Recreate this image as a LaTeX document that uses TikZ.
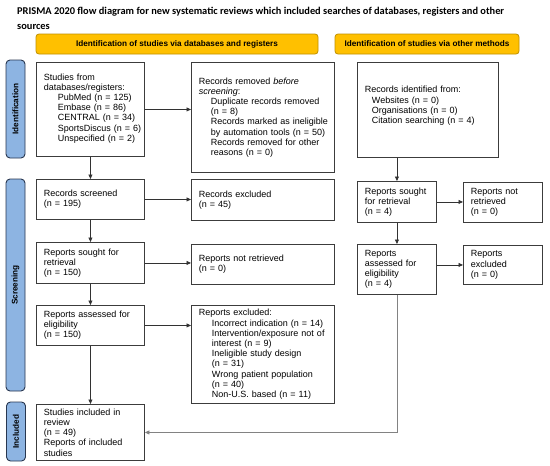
\documentclass[tikz,border=0pt]{standalone}
\usepackage{fontspec}
\setmainfont{Liberation Sans}
\newfontfamily\titlefont{Carlito}
\usetikzlibrary{arrows.meta}
\definecolor{boxline}{RGB}{60,60,60}
\definecolor{connline}{RGB}{50,50,50}
\definecolor{lightconn}{RGB}{130,130,130}
\definecolor{hdrfill}{RGB}{255,192,0}
\definecolor{hdrline}{RGB}{191,144,0}
\definecolor{barfill}{RGB}{141,180,226}
\definecolor{barline}{RGB}{40,55,80}
\newcommand{\itm}[2][12pt]{\hspace*{#1}\mbox{#2}}
\begin{document}
\begin{tikzpicture}[x=1pt,y=-1pt,
  box/.style={draw=boxline, line width=0.9pt, fill=white, inner xsep=7.5pt, inner ysep=0pt,
    align=left, anchor=north west, font=\fontsize{9}{10.2}\selectfont},
  header/.style={draw=hdrline, line width=0.8pt, fill=hdrfill, rounded corners=3pt,
    font=\fontsize{8.2}{10}\selectfont\bfseries, inner sep=0pt, minimum height=20pt},
  bar/.style={draw=barline, line width=0.9pt, fill=barfill, rounded corners=4pt, rotate=90,
    font=\fontsize{8.2}{10}\selectfont\bfseries, inner sep=0pt, minimum height=19pt},
  conn/.style={draw=connline, line width=0.8pt, -{Triangle[length=4.5pt,width=4pt]}},
]
\fill[white] (0,0) rectangle (550,466);
\useasboundingbox (0,0) rectangle (550,466);

% title
\node[anchor=north west, inner sep=0pt, align=left, font=\titlefont\bfseries\fontsize{10.4}{15.5}\selectfont] (title) at (17,6.5)
  {PRISMA 2020 flow diagram for new systematic reviews which included searches of databases, registers and other\\ sources};

% headers
\node[header, minimum width=282pt] (hdr1) at (177,44) {Identification of studies via databases and registers};
\node[header, minimum width=184pt] (hdr2) at (427,44) {Identification of studies via other methods};

% side bars
\node[bar, minimum width=98pt] (barI) at (15.5,109) {Identification};
\node[bar, minimum width=212pt] (barS) at (15.5,285) {Screening};
\node[bar, minimum width=59pt] (barInc) at (16,431.5) {Included};

% left column
\node[box, minimum width=108pt, text width=93pt, minimum height=94pt] (A) at (36,62)
  {Studies from\\ databases/registers:\\ \itm[14pt]{PubMed (n = 125)}\\ \itm[14pt]{Embase (n = 86)}\\
   \itm[14pt]{CENTRAL (n = 34)}\\ \itm[14pt]{SportsDiscus (n = 6)}\\ \itm[14pt]{Unspecified (n = 2)}\\[-6pt]\mbox{}};
\node[box, minimum width=108pt, text width=93pt, minimum height=40pt] (screened) at (36,179)
  {Records screened\\ (n = 195)};
\node[box, minimum width=108pt, text width=93pt, minimum height=41pt] (sought) at (36,242)
  {Reports sought for\\ retrieval\\ (n = 150)};
\node[box, minimum width=108pt, text width=93pt, minimum height=40pt] (assessed) at (36,305)
  {Reports assessed for\\ eligibility\\ (n = 150)};
\node[box, minimum width=108pt, text width=93pt, minimum height=56pt] (included) at (36,404)
  {Studies included in\\ review\\ (n = 49)\\ Reports of included\\ studies};

% middle column
\node[box, minimum width=143pt, text width=128pt, minimum height=110pt] (B) at (191,62)
  {Records removed \textit{before}\\ \textit{screening}:\\ \itm{Duplicate records removed}\\ \itm{(n = 8)}\\
   \itm{Records marked as ineligible}\\ \itm{by automation tools (n = 50)}\\ \itm{Records removed for other}\\ \itm{reasons (n = 0)}};
\node[box, minimum width=143pt, text width=128pt, minimum height=41pt] (excl) at (191,179)
  {Records excluded\\ (n = 45)};
\node[box, minimum width=143pt, text width=128pt, minimum height=40pt] (notret) at (191,244)
  {Reports not retrieved\\ (n = 0)};
\node[box, minimum width=143pt, text width=128pt, minimum height=98pt] (repexcl) at (191,305)
  {Reports excluded:\\ \itm[13pt]{Incorrect indication (n = 14)}\\ \itm[13pt]{Intervention/exposure not of}\\
   \itm[13pt]{interest (n = 9)}\\ \itm[13pt]{Ineligible study design}\\ \itm[13pt]{(n = 31)}\\
   \itm[13pt]{Wrong patient population}\\ \itm[13pt]{(n = 40)}\\ \itm[13pt]{Non-U.S. based (n = 11)}};

% right column
\node[box, minimum width=141pt, text width=126pt, minimum height=95pt] (C) at (357,62)
  {Records identified from:\\ \itm[7pt]{Websites (n = 0)}\\ \itm[7pt]{Organisations (n = 0)}\\
   \itm[7pt]{Citation searching (n = 4)}\\ \mbox{}};
\node[box, minimum width=79pt, text width=64pt, minimum height=41pt] (sought2) at (357,181)
  {Reports sought\\ for retrieval\\ (n = 4)};
\node[box, minimum width=79pt, text width=64pt, minimum height=40pt] (notret2) at (463,182)
  {Reports not\\ retrieved\\ (n = 0)};
\node[box, minimum width=79pt, text width=64pt, minimum height=50pt] (assessed2) at (357,244)
  {Reports\\ assessed for\\ eligibility\\ (n = 4)};
\node[box, minimum width=79pt, text width=64pt, minimum height=39pt] (excl2) at (463,245)
  {Reports\\ excluded\\ (n = 0)};

% connectors
\draw[conn] (A) -- (screened);
\draw[conn] (screened) -- (sought);
\draw[conn] (sought) -- (assessed);
\draw[conn] (assessed) -- (included);
\draw[conn] (A.east) -- (A.east -| B.west);
\draw[conn] (screened.east) -- (screened.east -| excl.west);
\draw[conn] (sought.east) -- (sought.east -| notret.west);
\draw[conn] (assessed.east) -- (assessed.east -| repexcl.west);
\draw[conn] (C.south -| sought2.north) -- (sought2.north);
\draw[conn] (sought2.east) -- (sought2.east -| notret2.west);
\draw[conn] (sought2) -- (assessed2);
\draw[conn] (excl2.west -| assessed2.east) -- (excl2.west);
\draw[conn, draw=lightconn] (assessed2.south) |- (included.east);
\end{tikzpicture}
\end{document}
